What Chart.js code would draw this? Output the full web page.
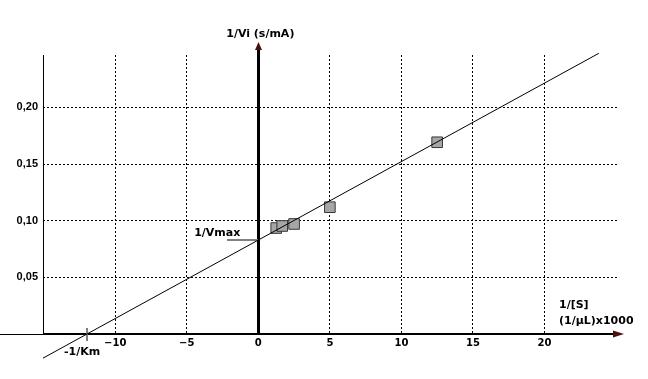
<!DOCTYPE html>
<html>
<head>
<meta charset="utf-8">
<script src="https://cdn.jsdelivr.net/npm/chart.js@4"></script>
<style>
    body { margin: 0; background: #ffffff; }
    #wrap { width: 648px; height: 379px; position: relative; }
</style>
</head>
<body>
<div id="wrap"><canvas id="lbChart"></canvas></div>
<script>

// Lineweaver-Burk values
let xTicks = [-10, -5, 0, 5, 10, 15, 20];
let yTicks = [0.05, 0.10, 0.15, 0.20];

let invS = [1.25, 1.67, 2.5, 5, 12.5];
let invV = [0.0935, 0.0953, 0.0971, 0.1119, 0.1692];

let fitX = [-15.05, 23.8];
let fitY = [-0.0213, 0.2477];

let minusInvKm = -11.97;
let invVmax = 0.0829;

let xTitle = ["1/[S]", "(1/\u00b5L)x1000"];
let yTitle = "1/Vi (s/mA)";

let boldFont = "bold 11px 'DejaVu Sans'";
let arrowColor = "#4a1010";

let axesPlugin = {
    id: "lbAxes",

    beforeDatasetsDraw(chart)
    {
        let ctx = chart.ctx;
        let area = chart.chartArea;
        let xs = chart.scales.x;
        let ys = chart.scales.y;
        let x0 = Math.round(xs.getPixelForValue(0));
        let y0 = Math.round(ys.getPixelForValue(0));

        ctx.save();
        ctx.strokeStyle = "#000000";

        // left frame line
        ctx.lineWidth = 1;
        ctx.beginPath();
        ctx.moveTo(area.left + 0.5, area.top);
        ctx.lineTo(area.left + 0.5, y0);
        ctx.stroke();

        // x axis, thin part outside the plot
        ctx.beginPath();
        ctx.moveTo(0, y0 + 0.5);
        ctx.lineTo(area.left, y0 + 0.5);
        ctx.stroke();

        // x axis
        ctx.lineWidth = 2;
        ctx.beginPath();
        ctx.moveTo(area.left, y0);
        ctx.lineTo(area.right - 4, y0);
        ctx.stroke();

        // y axis
        ctx.lineWidth = 3;
        ctx.beginPath();
        ctx.moveTo(x0 + 0.5, area.top - 5);
        ctx.lineTo(x0 + 0.5, y0);
        ctx.stroke();

        // arrows
        ctx.fillStyle = arrowColor;
        ctx.beginPath();
        ctx.moveTo(x0 + 0.5, area.top - 13);
        ctx.lineTo(x0 + 4, area.top - 5);
        ctx.lineTo(x0 - 3, area.top - 5);
        ctx.closePath();
        ctx.fill();

        ctx.beginPath();
        ctx.moveTo(area.right + 7, y0);
        ctx.lineTo(area.right - 4, y0 - 3.5);
        ctx.lineTo(area.right - 4, y0 + 3.5);
        ctx.closePath();
        ctx.fill();

        // 1/Vmax and -1/Km markers
        ctx.strokeStyle = "#808080";
        ctx.lineWidth = 2;
        let vy = Math.round(ys.getPixelForValue(invVmax));
        ctx.beginPath();
        ctx.moveTo(x0 - 31, vy);
        ctx.lineTo(x0, vy);
        ctx.stroke();

        let kx = Math.round(xs.getPixelForValue(minusInvKm));
        ctx.beginPath();
        ctx.moveTo(kx, y0 - 6);
        ctx.lineTo(kx, y0 + 7);
        ctx.stroke();

        ctx.restore();
    },

    afterDraw(chart)
    {
        let ctx = chart.ctx;
        let area = chart.chartArea;
        let xs = chart.scales.x;
        let ys = chart.scales.y;
        let x0 = xs.getPixelForValue(0);
        let y0 = ys.getPixelForValue(0);

        ctx.save();
        ctx.fillStyle = "#000000";
        ctx.font = boldFont;
        ctx.textBaseline = "alphabetic";

        ctx.textAlign = "center";
        ctx.fillText(yTitle, x0 + 2, area.top - 18);

        ctx.textAlign = "left";
        ctx.fillText(xTitle[0], area.left + 516, y0 - 26);
        ctx.fillText(xTitle[1], area.left + 516, y0 - 10);

        ctx.textAlign = "right";
        ctx.fillText("1/Vmax", x0 - 18, ys.getPixelForValue(invVmax) - 4);

        ctx.textAlign = "center";
        ctx.fillText("-1/Km", xs.getPixelForValue(minusInvKm) - 5, y0 + 21);

        ctx.restore();
    }
};

new Chart(
    document.getElementById(
        "lbChart"
    ),
    {
        type: "scatter",

        data: {
            datasets: [
                {
                    type: "line",
                    data: fitX.map((x, i) => ({ x: x, y: fitY[i] })),
                    borderColor: "#000000",
                    borderWidth: 1,
                    pointRadius: 0,
                    fill: false,
                    clip: false
                },
                {
                    data: invS.map((x, i) => ({ x: x, y: invV[i] })),
                    pointStyle: "rect",
                    pointRadius: 7.5,
                    backgroundColor: "#a6a6a6",
                    borderColor: "#383838",
                    borderWidth: 1
                }
            ]
        },

        options: {
            responsive: true,
            maintainAspectRatio: false,
            animation: false,
            layout: {
                padding: { top: 55, right: 31, bottom: 0, left: 0 }
            },
            plugins: {
                legend: { display: false },
                tooltip: { enabled: false }
            },
            scales: {
                x: {
                    type: "linear",
                    min: -15.05,
                    max: 25.07,
                    afterFit(scale) { scale.height = 45; },
                    afterBuildTicks(scale) {
                        scale.ticks = xTicks.map(v => ({ value: v }));
                    },
                    grid: {
                        color: ctx => ctx.tick && ctx.tick.value === 0 ? "rgba(0,0,0,0)" : "#000000",
                        lineWidth: 1,
                        drawTicks: false
                    },
                    border: { display: false, dash: [2, 2] },
                    ticks: {
                        padding: 3,
                        color: "#000000",
                        font: { family: "DejaVu Sans", size: 10, weight: "bold" },
                        callback: v => v < 0 ? "\u2212" + Math.abs(v) : String(v)
                    }
                },
                y: {
                    type: "linear",
                    min: 0,
                    max: 0.2462,
                    afterFit(scale) { scale.width = 43; },
                    afterBuildTicks(scale) {
                        scale.ticks = yTicks.map(v => ({ value: v }));
                    },
                    grid: {
                        color: "#000000",
                        lineWidth: 1,
                        drawTicks: false
                    },
                    border: { display: false, dash: [2, 2] },
                    ticks: {
                        padding: 5,
                        color: "#000000",
                        font: { family: "Liberation Sans", size: 11, weight: "bold" },
                        callback: v => v.toFixed(2).replace(".", ",")
                    }
                }
            }
        },

        plugins: [axesPlugin]
    }
);
</script>
</body>
</html>
